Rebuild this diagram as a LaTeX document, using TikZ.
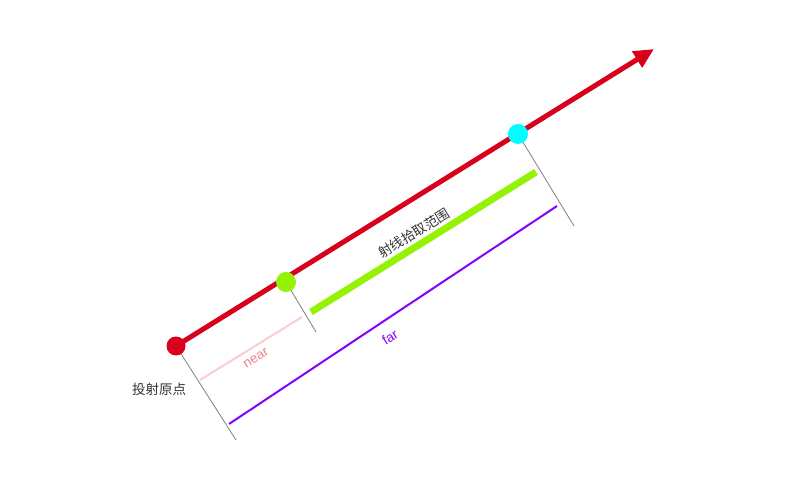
\documentclass[tikz,border=0pt]{standalone}
\usepackage{xcolor}
\usepackage{fontspec}
\setmainfont{Noto Sans CJK SC}
\newfontfamily\latinfont{Liberation Sans}
\usepackage{tikz}
\usetikzlibrary{positioning,arrows.meta}

\definecolor{raycol}{HTML}{D9001B}
\definecolor{nearcol}{HTML}{95F204}
\definecolor{farcol}{HTML}{00FFFF}
\definecolor{farline}{HTML}{8400FF}
\definecolor{nearline}{HTML}{FACDD1}
\definecolor{neartext}{HTML}{EC808D}

\begin{document}
\begin{tikzpicture}[x=1pt,y=-1pt,>=Stealth,
  dot/.style={circle,inner sep=0pt,minimum size=19pt},
  tick/.style={draw=gray,line width=0.8pt},
  lbl/.style={font=\fontsize{13.5}{15}\selectfont,inner sep=1pt}]
  \useasboundingbox[fill=white] (0,0) rectangle (787,502);
  % ray
  \coordinate (o) at (176,346);
  \coordinate (tip) at (654,49);
  \coordinate (pn) at (286,282);
  \coordinate (pf) at (518,134);
  % ticks
  \coordinate (to) at (236,440);
  \coordinate (tn) at (316,332);
  \coordinate (tf) at (574,226);
  \draw[tick] (o) -- (to);
  \draw[tick] (pn) -- (tn);
  \draw[tick] (pf) -- (tf);
  % near / far / range
  \coordinate (n1) at (200,380);
  \coordinate (n2) at (302,317);
  \coordinate (f1) at (229,424);
  \coordinate (f2) at (557,206);
  \coordinate (r1) at (311,312);
  \coordinate (r2) at (536,172);
  \draw[nearline,line width=2pt] (n1) -- (n2);
  \draw[farline,line width=2pt] (f1) -- (f2);
  \draw[nearcol,line width=7pt] (r1) -- (r2);
  \draw[raycol,line width=5pt,-{Triangle[length=20pt,width=18pt]}] (o) -- (tip);
  \node[dot,fill=raycol] (origin) at (o) {};
  \node[dot,fill=nearcol,minimum size=20pt] (neardot) at (pn) {};
  \node[dot,fill=farcol,minimum size=20pt] (fardot) at (pf) {};
  % labels
  \node[lbl,text=black!80] (olbl) at (159,389) {投射原点};
  \node[lbl,text=black!80,rotate=32] (rlbl) at (414,233) {射线拾取范围};
  \node[lbl,text=neartext,rotate=32] (nlbl) at (256,358) {\latinfont near};
  \node[lbl,text=farline,rotate=32] (flbl) at (390,337) {\latinfont far};
\end{tikzpicture}
\end{document}
